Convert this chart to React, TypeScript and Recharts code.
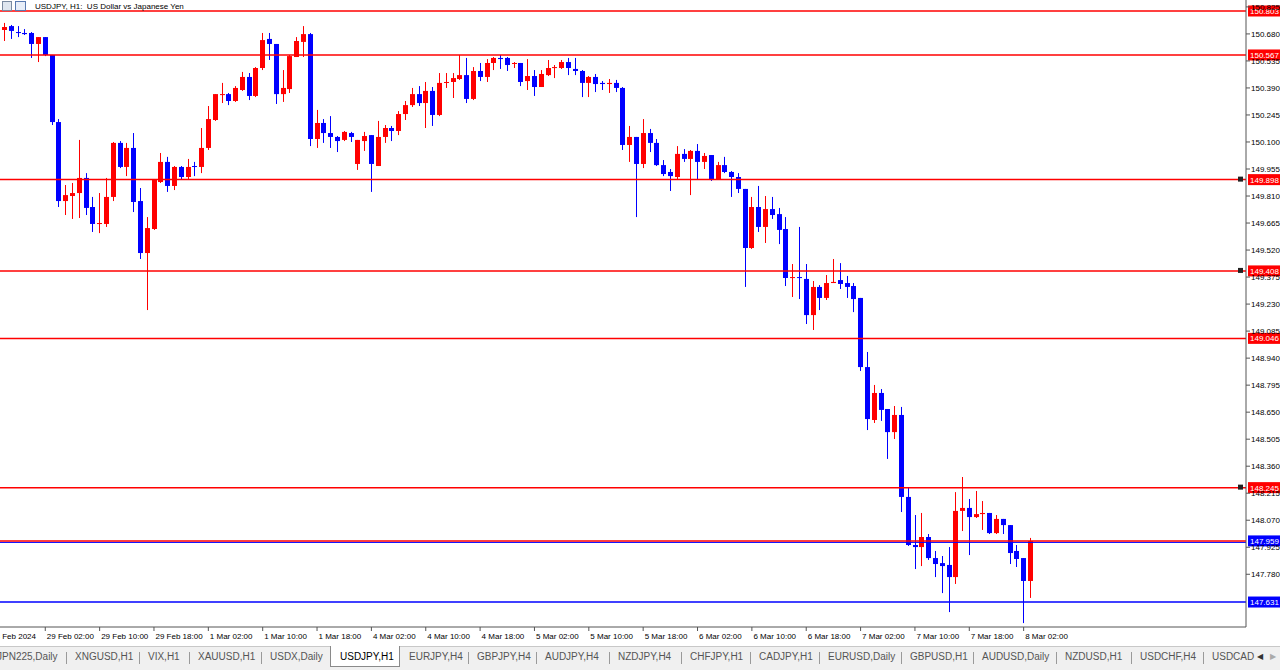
import React from "react";
import { ComposedChart, Bar, XAxis, YAxis, ReferenceLine } from "recharts";

// USDJPY H1, 28 Feb 20:00 -> 8 Mar 03:00
const OPEN = [
  150.701, 150.722, 150.69, 150.685, 150.685, 150.626, 150.663, 150.567, 150.207, 149.783,
  149.81, 149.826, 149.907, 149.751, 149.66, 149.66, 149.805, 150.095, 149.966, 150.068,
  149.783, 149.504, 149.633, 149.885, 149.993, 149.864, 149.966, 149.912, 149.971, 149.966,
  150.068, 150.218, 150.352, 150.357, 150.32, 150.379, 150.449, 150.347, 150.497, 150.653,
  150.626, 150.357, 150.384, 150.556, 150.637, 150.679, 150.116, 150.202, 150.148, 150.127,
  150.111, 150.148, 149.982, 150.105, 150.137, 149.971, 150.127, 150.175, 150.159, 150.25,
  150.298, 150.357, 150.309, 150.374, 150.245, 150.417, 150.422, 150.438, 150.459, 150.331,
  150.481, 150.449, 150.524, 150.551, 150.551, 150.519, 150.524, 150.427, 150.454, 150.395,
  150.459, 150.497, 150.497, 150.529, 150.492, 150.481, 150.417, 150.449, 150.417, 150.411,
  150.417, 150.39, 150.084, 150.127, 149.982, 150.148, 150.095, 149.976, 149.939, 149.912,
  150.036, 150.009, 150.052, 149.993, 150.03, 149.901, 149.976, 149.939, 149.912, 149.848,
  149.531, 149.751, 149.644, 149.74, 149.713, 149.633, 149.37, 149.375, 149.365, 149.171,
  149.322, 149.263, 149.343, 149.359, 149.343, 149.327, 149.263, 148.892, 148.608, 148.753,
  148.667, 148.543, 148.635, 148.195, 147.937, 147.926, 147.98, 147.867, 147.84, 147.83,
  147.765, 148.12, 148.136, 148.087, 148.103, 148.109, 148.001, 148.077, 148.044, 147.905,
  147.867, 147.744,
];
const HIGH = [
  150.739, 150.728, 150.722, 150.706, 150.69, 150.663, 150.663, 150.567, 150.223, 149.869,
  149.88, 150.111, 149.933, 149.805, 149.826, 149.907, 150.1, 150.105, 150.095, 150.148,
  149.853, 149.697, 149.901, 150.041, 150.02, 149.971, 149.971, 150.009, 149.993, 150.175,
  150.293, 150.357, 150.417, 150.363, 150.4, 150.476, 150.47, 150.502, 150.685, 150.685,
  150.626, 150.486, 150.567, 150.663, 150.722, 150.685, 150.272, 150.223, 150.239, 150.132,
  150.159, 150.154, 150.111, 150.154, 150.137, 150.213, 150.191, 150.186, 150.266, 150.32,
  150.39, 150.4, 150.422, 150.395, 150.47, 150.47, 150.47, 150.567, 150.551, 150.502,
  150.524, 150.545, 150.556, 150.567, 150.556, 150.529, 150.524, 150.545, 150.486, 150.486,
  150.54, 150.513, 150.54, 150.551, 150.551, 150.486, 150.454, 150.465, 150.427, 150.438,
  150.433, 150.395, 150.186, 150.127, 150.223, 150.17, 150.116, 150.003, 149.955, 150.078,
  150.062, 150.057, 150.089, 150.041, 150.03, 149.993, 150.02, 149.944, 149.933, 149.848,
  149.805, 149.864, 149.81, 149.805, 149.746, 149.697, 149.445, 149.644, 149.445, 149.354,
  149.332, 149.386, 149.472, 149.45, 149.381, 149.343, 149.263, 148.973, 148.796, 148.774,
  148.667, 148.683, 148.678, 148.243, 148.098, 148.109, 147.996, 147.905, 147.878, 147.926,
  148.221, 148.302, 148.184, 148.227, 148.173, 148.109, 148.098, 148.077, 148.044, 147.937,
  147.867, 147.975,
];
const LOW = [
  150.642, 150.653, 150.663, 150.674, 150.551, 150.529, 150.561, 150.191, 149.751, 149.708,
  149.687, 149.692, 149.708, 149.617, 149.611, 149.644, 149.783, 149.96, 149.917, 149.724,
  149.472, 149.198, 149.628, 149.88, 149.832, 149.842, 149.901, 149.901, 149.917, 149.933,
  150.057, 150.213, 150.309, 150.298, 150.315, 150.374, 150.325, 150.341, 150.486, 150.54,
  150.304, 150.315, 150.363, 150.556, 150.556, 150.078, 150.068, 150.095, 150.068, 150.046,
  150.105, 150.1, 149.95, 150.052, 149.832, 149.971, 150.095, 150.105, 150.137, 150.218,
  150.288, 150.293, 150.175, 150.186, 150.239, 150.39, 150.336, 150.433, 150.309, 150.325,
  150.427, 150.422, 150.486, 150.492, 150.481, 150.497, 150.4, 150.379, 150.347, 150.395,
  150.454, 150.443, 150.492, 150.459, 150.459, 150.341, 150.341, 150.368, 150.379, 150.363,
  150.368, 150.057, 149.993, 149.697, 149.96, 150.046, 149.971, 149.917, 149.837, 149.901,
  149.993, 149.815, 149.901, 149.955, 149.891, 149.896, 149.933, 149.805, 149.826, 149.322,
  149.526, 149.617, 149.558, 149.687, 149.552, 149.327, 149.268, 149.257, 149.123, 149.091,
  149.198, 149.252, 149.343, 149.311, 149.263, 149.187, 148.871, 148.554, 148.592, 148.603,
  148.399, 148.506, 148.114, 147.932, 147.808, 147.824, 147.857, 147.765, 147.679, 147.577,
  147.728, 148.012, 147.883, 148.082, 148.018, 147.996, 147.996, 147.996, 147.835, 147.819,
  147.518, 147.653,
];
const CLOSE = [
  150.717, 150.696, 150.685, 150.679, 150.626, 150.663, 150.567, 150.207, 149.783, 149.815,
  149.826, 149.907, 149.746, 149.66, 149.665, 149.805, 150.095, 149.966, 150.068, 149.778,
  149.504, 149.638, 149.896, 149.993, 149.864, 149.966, 149.912, 149.966, 149.966, 150.068,
  150.223, 150.357, 150.357, 150.32, 150.39, 150.449, 150.347, 150.497, 150.647, 150.626,
  150.357, 150.39, 150.561, 150.642, 150.679, 150.116, 150.202, 150.148, 150.127, 150.105,
  150.154, 150.127, 150.111, 150.132, 149.982, 150.127, 150.175, 150.159, 150.25, 150.298,
  150.357, 150.309, 150.374, 150.245, 150.417, 150.422, 150.443, 150.459, 150.331, 150.481,
  150.449, 150.524, 150.551, 150.545, 150.513, 150.524, 150.422, 150.454, 150.395, 150.465,
  150.497, 150.502, 150.529, 150.497, 150.481, 150.417, 150.449, 150.411, 150.411, 150.417,
  150.39, 150.084, 150.127, 149.982, 150.148, 150.095, 149.976, 149.928, 149.917, 150.036,
  150.009, 150.052, 149.993, 150.025, 149.901, 149.976, 149.939, 149.912, 149.848, 149.531,
  149.751, 149.644, 149.74, 149.708, 149.628, 149.37, 149.375, 149.37, 149.171, 149.322,
  149.263, 149.343, 149.349, 149.338, 149.322, 149.257, 148.892, 148.613, 148.753, 148.662,
  148.543, 148.635, 148.195, 147.937, 147.926, 147.98, 147.867, 147.835, 147.824, 147.765,
  148.12, 148.136, 148.087, 148.103, 148.109, 148.001, 148.077, 148.044, 147.894, 147.862,
  147.744, 147.958,
];

const PRICE_TICKS = [
  150.825, 150.68, 150.535, 150.39, 150.245, 150.1, 149.955, 149.81, 149.665, 149.52, 149.375,
  149.23, 149.085, 148.94, 148.795, 148.65, 148.505, 148.36, 148.215, 148.07, 147.925, 147.78,
];

// horizontal levels drawn on the chart
const RED_LEVELS = [150.803, 150.567, 149.898, 149.408, 149.046, 148.245, 147.959];
const SELECTED_LEVELS = [149.898, 149.408, 148.245];
const BID = 147.959;
const BLUE_LEVEL = 147.631;

const FIRST_LABEL = "28 Feb 2024";
const TABS = [
  "JPN225,Daily", "XNGUSD,H1", "VIX,H1", "XAUUSD,H1", "USDX,Daily", "USDJPY,H1", "EURJPY,H4",
  "GBPJPY,H4", "AUDJPY,H4", "NZDJPY,H4", "CHFJPY,H1", "CADJPY,H1", "EURUSD,Daily", "GBPUSD,H1",
  "AUDUSD,Daily", "NZDUSD,H1", "USDCHF,H4", "USDCAD",
];
const TAB_X = [-3, 75, 148, 198, 270, 340, 409, 477, 545, 618, 690, 759, 828, 910, 982, 1065, 1140, 1212];
const ACTIVE_TAB = "USDJPY,H1";

const UP = "#ff0000";
const DOWN = "#0000ff";
const FONT = "'Liberation Sans', Arial, sans-serif";
const MONTHS = ["Jan", "Feb", "Mar"];

// hourly bar times, weekend skipped
function buildBarTimes(count: number) {
  const out: string[] = [];
  let t = Date.UTC(2024, 1, 28, 20);
  while (out.length < count) {
    const d = new Date(t);
    const wd = d.getUTCDay();
    if (wd !== 0 && wd !== 6) {
      out.push(`${d.getUTCDate()} ${MONTHS[d.getUTCMonth()]} ${String(d.getUTCHours()).padStart(2, "0")}:00`);
    }
    t += 3600000;
  }
  return out;
}

const BAR_TIMES = buildBarTimes(OPEN.length);
const TICK_BARS = BAR_TIMES.map((_, i) => i).filter((i) => i === 0 || (i - 6) % 8 === 0);

const candles = OPEN.map((o, i) => ({
  i,
  time: BAR_TIMES[i],
  open: o,
  high: HIGH[i],
  low: LOW[i],
  close: CLOSE[i],
}));

function Candle(props: any) {
  const { x, y, width, height, payload } = props;
  if (x == null || y == null || !payload) return null;
  const { open, close, high, low } = payload;
  const k = high > low ? height / (high - low) : 0;
  const py = (v: number) => y + (high - v) * k;
  const cx = Math.round(x + width / 2);
  const color = close >= open ? UP : DOWN;
  const top = py(Math.max(open, close));
  const bot = py(Math.min(open, close));
  return (
    <g>
      <line x1={cx + 0.5} x2={cx + 0.5} y1={y} y2={y + height} stroke={color} strokeWidth={1} />
      <rect x={cx - 2} y={top} width={5} height={Math.max(1, bot - top)} fill={color} />
    </g>
  );
}

function TimeTick(props: any) {
  const { x, y, payload } = props;
  const idx = payload.value;
  const first = idx === 0;
  return (
    <g>
      {!first && <line x1={x + 0.5} x2={x + 0.5} y1={y} y2={y + 4} stroke="#555" />}
      <text
        x={first ? x + 32 : x + 2}
        y={y + 12}
        textAnchor={first ? "end" : "start"}
        fontSize={8}
        fontFamily={FONT}
        fill="#000"
      >
        {first ? FIRST_LABEL : BAR_TIMES[idx]}
      </text>
    </g>
  );
}

function priceLabel(price: number, bg: string, marker: boolean) {
  return (props: any) => {
    const vb = props.viewBox;
    if (!vb) return null;
    const right = vb.x + vb.width;
    const yy = vb.y;
    return (
      <g>
        {marker && <rect x={right - 8} y={yy - 3} width={5} height={5} fill="#222" />}
        <rect x={right + 2} y={yy - 5.5} width={34} height={11} fill={bg} />
        <text x={right + 4} y={yy + 3} fontSize={8} fontFamily={FONT} fill="#fff">
          {price.toFixed(3)}
        </text>
      </g>
    );
  };
}

function BidLine(props: any) {
  const { x1, x2, y1 } = props;
  if (x1 == null) return null;
  return <line x1={x1} x2={x2} y1={y1 + 1.5} y2={y1 + 1.5} stroke={DOWN} strokeWidth={1} />;
}

export default function App() {
  return (
    <div
      style={{
        position: "absolute",
        left: 0,
        top: 0,
        width: 1280,
        height: 670,
        background: "#fff",
        overflow: "hidden",
        fontFamily: FONT,
      }}
    >
      <ComposedChart
        width={1280}
        height={645}
        data={candles}
        margin={{ top: 0, right: 0, bottom: 0, left: 0 }}
      >
        <XAxis
          type="number"
          dataKey="i"
          domain={[-0.59, 182.8]}
          allowDataOverflow
          ticks={TICK_BARS}
          interval={0}
          tick={<TimeTick />}
          tickLine={false}
          tickSize={0}
          tickMargin={0}
          height={18}
          axisLine={{ stroke: "#555" }}
        />
        <YAxis
          orientation="right"
          domain={[147.497, 150.862]}
          allowDataOverflow
          ticks={PRICE_TICKS}
          interval={0}
          width={34}
          tickSize={4}
          tickMargin={1}
          tickFormatter={(v: number) => v.toFixed(3)}
          tick={{ fontSize: 8, fill: "#000", fontFamily: FONT }}
          tickLine={{ stroke: "#555" }}
          axisLine={{ stroke: "#555" }}
        />
        <Bar
          dataKey={(d: any) => [d.low, d.high]}
          shape={Candle}
          barSize={5}
          isAnimationActive={false}
        />
        <ReferenceLine
          y={BID}
          stroke={DOWN}
          shape={BidLine}
          label={{ content: priceLabel(BID, DOWN, false) }}
        />
        {RED_LEVELS.map((p) => (
          <ReferenceLine
            key={p}
            y={p}
            stroke={UP}
            strokeWidth={1.5}
            label={p === BID ? undefined : { content: priceLabel(p, UP, SELECTED_LEVELS.includes(p)) }}
          />
        ))}
        <ReferenceLine
          y={BLUE_LEVEL}
          stroke={DOWN}
          strokeWidth={1.5}
          label={{ content: priceLabel(BLUE_LEVEL, DOWN, false) }}
        />
      </ComposedChart>

      {/* title */}
      <div style={{ position: "absolute", left: 2, top: 1, display: "flex", alignItems: "center" }}>
        <div style={{ width: 8, height: 8, border: "1px solid #7a8aa0", background: "#dfe6ef", marginRight: 3 }} />
        <div style={{ width: 9, height: 8, border: "1px solid #5a7ab0", background: "#e8eef8", marginRight: 9 }} />
        <span style={{ fontSize: 8, color: "#000", whiteSpace: "pre" }}>USDJPY, H1:  US Dollar vs Japanese Yen</span>
      </div>

      {/* symbol tabs */}
      <div
        style={{
          position: "absolute",
          left: 0,
          top: 646,
          width: 1280,
          height: 24,
          background: "#f0f0f0",
          borderTop: "1px solid #c8c8c8",
        }}
      >
        <div
          style={{
            position: "absolute",
            left: 330,
            top: -1,
            width: 68,
            height: 20,
            background: "#fff",
            borderLeft: "1px solid #8a8a8a",
            borderRight: "1px solid #8a8a8a",
            borderBottom: "1px solid #8a8a8a",
          }}
        />
        {TABS.map((t, k) => {
          const active = t === ACTIVE_TAB;
          return (
            <React.Fragment key={t}>
              <span
                style={{
                  position: "absolute",
                  left: TAB_X[k],
                  top: 4,
                  fontSize: 10,
                  color: active ? "#000" : "#555",
                  whiteSpace: "nowrap",
                }}
              >
                {t}
              </span>
              {k > 0 && TABS[k - 1] !== ACTIVE_TAB && !active && (
                <div
                  style={{
                    position: "absolute",
                    left: TAB_X[k] - 9,
                    top: 5,
                    width: 1,
                    height: 12,
                    background: "#9a9a9a",
                  }}
                />
              )}
            </React.Fragment>
          );
        })}
        <span style={{ position: "absolute", left: 1257, top: 5, fontSize: 8, color: "#333" }}>◀</span>
        <span style={{ position: "absolute", left: 1270, top: 5, fontSize: 8, color: "#aaa" }}>▶</span>
      </div>
    </div>
  );
}
